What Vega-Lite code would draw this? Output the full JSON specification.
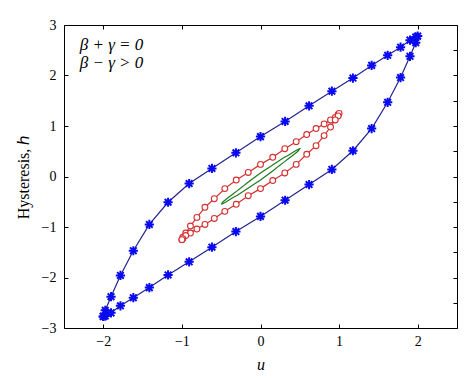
{
  "$schema": "https://vega.github.io/schema/vega-lite/v6.json",
  "width": 393,
  "height": 303,
  "autosize": "none",
  "padding": {"left": 64, "top": 25, "right": 17, "bottom": 63},
  "background": "white",
  "config": {
    "view": {"stroke": "black", "strokeWidth": 1},
    "font": "Liberation Serif",
    "axis": {"grid": false, "domain": false, "tickColor": "black", "labelColor": "black", "titleColor": "black", "labelFont": "Liberation Serif", "titleFont": "Liberation Serif", "labelFontSize": 14, "titleFontSize": 16, "titleFontWeight": "normal"}
  },
  "datasets": {
    "curves": [
      {"series": "blue", "i": 0, "u": -2.0, "h": -2.77},
      {"series": "blue", "i": 1, "u": -1.975, "h": -2.65},
      {"series": "blue", "i": 2, "u": -1.902, "h": -2.38},
      {"series": "blue", "i": 3, "u": -1.782, "h": -1.96},
      {"series": "blue", "i": 4, "u": -1.618, "h": -1.47},
      {"series": "blue", "i": 5, "u": -1.414, "h": -0.95},
      {"series": "blue", "i": 6, "u": -1.176, "h": -0.51},
      {"series": "blue", "i": 7, "u": -0.908, "h": -0.14},
      {"series": "blue", "i": 8, "u": -0.618, "h": 0.16},
      {"series": "blue", "i": 9, "u": -0.313, "h": 0.47},
      {"series": "blue", "i": 10, "u": 0.0, "h": 0.79},
      {"series": "blue", "i": 11, "u": 0.313, "h": 1.09},
      {"series": "blue", "i": 12, "u": 0.618, "h": 1.4},
      {"series": "blue", "i": 13, "u": 0.908, "h": 1.69},
      {"series": "blue", "i": 14, "u": 1.176, "h": 1.95},
      {"series": "blue", "i": 15, "u": 1.414, "h": 2.2},
      {"series": "blue", "i": 16, "u": 1.618, "h": 2.4},
      {"series": "blue", "i": 17, "u": 1.782, "h": 2.56},
      {"series": "blue", "i": 18, "u": 1.902, "h": 2.7},
      {"series": "blue", "i": 19, "u": 1.975, "h": 2.76},
      {"series": "blue", "i": 20, "u": 2.0, "h": 2.78},
      {"series": "blue", "i": 21, "u": 1.975, "h": 2.65},
      {"series": "blue", "i": 22, "u": 1.902, "h": 2.38},
      {"series": "blue", "i": 23, "u": 1.782, "h": 1.96},
      {"series": "blue", "i": 24, "u": 1.618, "h": 1.47},
      {"series": "blue", "i": 25, "u": 1.414, "h": 0.95},
      {"series": "blue", "i": 26, "u": 1.176, "h": 0.51},
      {"series": "blue", "i": 27, "u": 0.908, "h": 0.14},
      {"series": "blue", "i": 28, "u": 0.618, "h": -0.16},
      {"series": "blue", "i": 29, "u": 0.313, "h": -0.47},
      {"series": "blue", "i": 30, "u": 0.0, "h": -0.79},
      {"series": "blue", "i": 31, "u": -0.313, "h": -1.09},
      {"series": "blue", "i": 32, "u": -0.618, "h": -1.4},
      {"series": "blue", "i": 33, "u": -0.908, "h": -1.69},
      {"series": "blue", "i": 34, "u": -1.176, "h": -1.95},
      {"series": "blue", "i": 35, "u": -1.414, "h": -2.2},
      {"series": "blue", "i": 36, "u": -1.618, "h": -2.4},
      {"series": "blue", "i": 37, "u": -1.782, "h": -2.56},
      {"series": "blue", "i": 38, "u": -1.902, "h": -2.7},
      {"series": "blue", "i": 39, "u": -1.975, "h": -2.76},
      {"series": "blue", "i": 40, "u": -2.0, "h": -2.77},
      {"series": "red", "i": 0, "u": -1.0, "h": -1.25},
      {"series": "red", "i": 1, "u": -0.988, "h": -1.2},
      {"series": "red", "i": 2, "u": -0.951, "h": -1.12},
      {"series": "red", "i": 3, "u": -0.891, "h": -0.98},
      {"series": "red", "i": 4, "u": -0.809, "h": -0.81},
      {"series": "red", "i": 5, "u": -0.707, "h": -0.61},
      {"series": "red", "i": 6, "u": -0.588, "h": -0.44},
      {"series": "red", "i": 7, "u": -0.454, "h": -0.24},
      {"series": "red", "i": 8, "u": -0.309, "h": -0.07},
      {"series": "red", "i": 9, "u": -0.156, "h": 0.08},
      {"series": "red", "i": 10, "u": 0.0, "h": 0.24},
      {"series": "red", "i": 11, "u": 0.156, "h": 0.38},
      {"series": "red", "i": 12, "u": 0.309, "h": 0.55},
      {"series": "red", "i": 13, "u": 0.454, "h": 0.69},
      {"series": "red", "i": 14, "u": 0.588, "h": 0.83},
      {"series": "red", "i": 15, "u": 0.707, "h": 0.95},
      {"series": "red", "i": 16, "u": 0.809, "h": 1.04},
      {"series": "red", "i": 17, "u": 0.891, "h": 1.12},
      {"series": "red", "i": 18, "u": 0.951, "h": 1.17},
      {"series": "red", "i": 19, "u": 0.988, "h": 1.23},
      {"series": "red", "i": 20, "u": 1.0, "h": 1.25},
      {"series": "red", "i": 21, "u": 0.988, "h": 1.2},
      {"series": "red", "i": 22, "u": 0.951, "h": 1.12},
      {"series": "red", "i": 23, "u": 0.891, "h": 0.98},
      {"series": "red", "i": 24, "u": 0.809, "h": 0.81},
      {"series": "red", "i": 25, "u": 0.707, "h": 0.61},
      {"series": "red", "i": 26, "u": 0.588, "h": 0.44},
      {"series": "red", "i": 27, "u": 0.454, "h": 0.24},
      {"series": "red", "i": 28, "u": 0.309, "h": 0.07},
      {"series": "red", "i": 29, "u": 0.156, "h": -0.08},
      {"series": "red", "i": 30, "u": 0.0, "h": -0.24},
      {"series": "red", "i": 31, "u": -0.156, "h": -0.38},
      {"series": "red", "i": 32, "u": -0.309, "h": -0.55},
      {"series": "red", "i": 33, "u": -0.454, "h": -0.69},
      {"series": "red", "i": 34, "u": -0.588, "h": -0.83},
      {"series": "red", "i": 35, "u": -0.707, "h": -0.95},
      {"series": "red", "i": 36, "u": -0.809, "h": -1.04},
      {"series": "red", "i": 37, "u": -0.891, "h": -1.12},
      {"series": "red", "i": 38, "u": -0.951, "h": -1.17},
      {"series": "red", "i": 39, "u": -0.988, "h": -1.23},
      {"series": "red", "i": 40, "u": -1.0, "h": -1.25},
      {"series": "green", "i": 0, "u": -0.5, "h": -0.55},
      {"series": "green", "i": 1, "u": -0.494, "h": -0.535},
      {"series": "green", "i": 2, "u": -0.476, "h": -0.5},
      {"series": "green", "i": 3, "u": -0.445, "h": -0.46},
      {"series": "green", "i": 4, "u": -0.405, "h": -0.41},
      {"series": "green", "i": 5, "u": -0.354, "h": -0.35},
      {"series": "green", "i": 6, "u": -0.294, "h": -0.28},
      {"series": "green", "i": 7, "u": -0.227, "h": -0.2},
      {"series": "green", "i": 8, "u": -0.155, "h": -0.11},
      {"series": "green", "i": 9, "u": -0.078, "h": -0.02},
      {"series": "green", "i": 10, "u": 0.0, "h": 0.07},
      {"series": "green", "i": 11, "u": 0.078, "h": 0.15},
      {"series": "green", "i": 12, "u": 0.155, "h": 0.23},
      {"series": "green", "i": 13, "u": 0.227, "h": 0.3},
      {"series": "green", "i": 14, "u": 0.294, "h": 0.37},
      {"series": "green", "i": 15, "u": 0.354, "h": 0.42},
      {"series": "green", "i": 16, "u": 0.405, "h": 0.47},
      {"series": "green", "i": 17, "u": 0.445, "h": 0.51},
      {"series": "green", "i": 18, "u": 0.476, "h": 0.535},
      {"series": "green", "i": 19, "u": 0.494, "h": 0.548},
      {"series": "green", "i": 20, "u": 0.5, "h": 0.55},
      {"series": "green", "i": 21, "u": 0.494, "h": 0.535},
      {"series": "green", "i": 22, "u": 0.476, "h": 0.5},
      {"series": "green", "i": 23, "u": 0.445, "h": 0.46},
      {"series": "green", "i": 24, "u": 0.405, "h": 0.41},
      {"series": "green", "i": 25, "u": 0.354, "h": 0.35},
      {"series": "green", "i": 26, "u": 0.294, "h": 0.28},
      {"series": "green", "i": 27, "u": 0.227, "h": 0.2},
      {"series": "green", "i": 28, "u": 0.155, "h": 0.11},
      {"series": "green", "i": 29, "u": 0.078, "h": 0.02},
      {"series": "green", "i": 30, "u": 0.0, "h": -0.07},
      {"series": "green", "i": 31, "u": -0.078, "h": -0.15},
      {"series": "green", "i": 32, "u": -0.155, "h": -0.23},
      {"series": "green", "i": 33, "u": -0.227, "h": -0.3},
      {"series": "green", "i": 34, "u": -0.294, "h": -0.37},
      {"series": "green", "i": 35, "u": -0.354, "h": -0.42},
      {"series": "green", "i": 36, "u": -0.405, "h": -0.47},
      {"series": "green", "i": 37, "u": -0.445, "h": -0.51},
      {"series": "green", "i": 38, "u": -0.476, "h": -0.535},
      {"series": "green", "i": 39, "u": -0.494, "h": -0.548},
      {"series": "green", "i": 40, "u": -0.5, "h": -0.55}
    ],
    "notes": [
      {"label": "β + γ = 0", "u": -2.3, "h": 2.6},
      {"label": "β − γ > 0", "u": -2.3, "h": 2.24}
    ]
  },
  "layer": [
    {
      "data": {"name": "curves"},
      "mark": {"type": "line", "strokeWidth": 1.2},
      "encoding": {
        "x": {"field": "u", "type": "quantitative", "scale": {"domain": [-2.5, 2.5], "nice": false, "zero": false},
              "axis": {"orient": "bottom", "values": [-2, -1, 0, 1, 2], "tickSize": -4, "labelPadding": 10, "title": "u", "titleFontStyle": "italic", "titlePadding": 8}},
        "y": {"field": "h", "type": "quantitative", "scale": {"domain": [-3, 3], "nice": false, "zero": false},
              "axis": {"orient": "left", "values": [-3, -2.5, -2, -1.5, -1, -0.5, 0, 0.5, 1, 1.5, 2, 2.5, 3], "format": "d", "labelExpr": "datum.value % 1 == 0 ? datum.label : ''", "tickSize": -4, "labelPadding": 12, "title": "Hysteresis, ℎ", "titlePadding": 10}},
        "color": {"field": "series", "type": "nominal", "scale": {"domain": ["blue", "red", "green"], "range": ["#232391", "#d43030", "#1f7a1f"]}, "legend": null},
        "order": {"field": "i", "type": "quantitative"}
      }
    },
    {
      "data": {"name": "curves"},
      "transform": [{"filter": "datum.series == 'blue'"}],
      "mark": {"type": "point", "shape": "M-1,0L1,0M0,-1L0,1M-0.72,-0.72L0.72,0.72M-0.72,0.72L0.72,-0.72", "filled": false, "stroke": "#0a0af0", "strokeWidth": 2, "size": 85, "opacity": 1},
      "encoding": {
        "x": {"field": "u", "type": "quantitative", "axis": null},
        "y": {"field": "h", "type": "quantitative", "axis": null}
      }
    },
    {
      "data": {"name": "curves"},
      "transform": [{"filter": "datum.series == 'red'"}],
      "mark": {"type": "point", "shape": "circle", "filled": true, "fill": "white", "stroke": "#d43030", "strokeWidth": 1.1, "size": 34, "opacity": 1},
      "encoding": {
        "x": {"field": "u", "type": "quantitative", "axis": null},
        "y": {"field": "h", "type": "quantitative", "axis": null}
      }
    },
    {
      "data": {"name": "notes"},
      "mark": {"type": "text", "align": "left", "baseline": "middle", "font": "Liberation Serif", "fontStyle": "italic", "fontSize": 17, "color": "black"},
      "encoding": {
        "x": {"field": "u", "type": "quantitative", "axis": {"orient": "top", "values": [-2, -1, 0, 1, 2], "tickSize": -4, "labels": false, "title": null}},
        "y": {"field": "h", "type": "quantitative", "axis": {"orient": "right", "values": [-3, -2.5, -2, -1.5, -1, -0.5, 0, 0.5, 1, 1.5, 2, 2.5, 3], "tickSize": -4, "labels": false, "title": null}},
        "text": {"field": "label"}
      }
    }
  ],
  "resolve": {"axis": {"x": "independent", "y": "independent"}}
}
